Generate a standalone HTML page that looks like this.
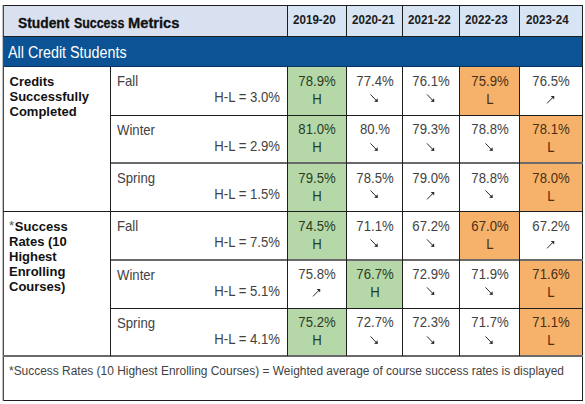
<!DOCTYPE html>
<html><head><meta charset="utf-8"><style>
html,body{margin:0;padding:0;background:#fff;width:585px;height:404px;overflow:hidden;position:relative}
div{position:absolute}
.t{font-family:"Liberation Sans",sans-serif;white-space:nowrap;line-height:1;transform-origin:0 0}
</style></head><body>
<div style="left:3px;top:5px;width:579px;height:31px;background:#d9e1f1;"></div>
<div style="left:287px;top:5px;width:295px;height:31px;background:#d6e4f3;"></div>
<div style="left:3px;top:37px;width:579px;height:30px;background:#0b5394;"></div>
<div style="left:3px;top:66px;width:579px;height:1px;background:#0a3360;"></div>
<div style="left:288px;top:67px;width:58px;height:48px;background:#b6d7a8;"></div>
<div class="t" style="left:267.0px;top:73.9px;width:100px;text-align:center;transform-origin:50% 0;font-size:14.3px;font-weight:400;color:#263d22;transform:scaleX(0.92);">78.9%</div>
<div class="t" style="left:267.0px;top:91.9px;width:100px;text-align:center;transform-origin:50% 0;font-size:14.3px;font-weight:400;color:#263d22;transform:scaleX(0.92);">H</div>
<div class="t" style="left:324.5px;top:73.9px;width:100px;text-align:center;transform-origin:50% 0;font-size:14.3px;font-weight:400;color:#424242;transform:scaleX(0.92);">77.4%</div>
<div class="t" style="left:381.0px;top:73.9px;width:100px;text-align:center;transform-origin:50% 0;font-size:14.3px;font-weight:400;color:#424242;transform:scaleX(0.92);">76.1%</div>
<div style="left:460px;top:67px;width:59px;height:48px;background:#f6b26b;"></div>
<div class="t" style="left:439.5px;top:73.9px;width:100px;text-align:center;transform-origin:50% 0;font-size:14.3px;font-weight:400;color:#4a2e12;transform:scaleX(0.92);">75.9%</div>
<div class="t" style="left:439.5px;top:91.9px;width:100px;text-align:center;transform-origin:50% 0;font-size:14.3px;font-weight:400;color:#4a2e12;transform:scaleX(0.92);">L</div>
<div class="t" style="left:501.0px;top:73.9px;width:100px;text-align:center;transform-origin:50% 0;font-size:14.3px;font-weight:400;color:#424242;transform:scaleX(0.92);">76.5%</div>
<div class="t" style="left:117px;top:74.3px;font-size:14.3px;font-weight:400;color:#424242;transform:scaleX(0.92);">Fall</div>
<div class="t" style="left:80px;top:90.3px;width:200px;text-align:right;transform-origin:100% 0;font-size:14.3px;font-weight:400;color:#424242;transform:scaleX(0.92);">H-L = 3.0%</div>
<div style="left:288px;top:116px;width:58px;height:46.5px;background:#b6d7a8;"></div>
<div class="t" style="left:267.0px;top:122.2px;width:100px;text-align:center;transform-origin:50% 0;font-size:14.3px;font-weight:400;color:#263d22;transform:scaleX(0.92);">81.0%</div>
<div class="t" style="left:267.0px;top:140.2px;width:100px;text-align:center;transform-origin:50% 0;font-size:14.3px;font-weight:400;color:#263d22;transform:scaleX(0.92);">H</div>
<div class="t" style="left:324.5px;top:122.2px;width:100px;text-align:center;transform-origin:50% 0;font-size:14.3px;font-weight:400;color:#424242;transform:scaleX(0.92);">80.%</div>
<div class="t" style="left:381.0px;top:122.2px;width:100px;text-align:center;transform-origin:50% 0;font-size:14.3px;font-weight:400;color:#424242;transform:scaleX(0.92);">79.3%</div>
<div class="t" style="left:439.5px;top:122.2px;width:100px;text-align:center;transform-origin:50% 0;font-size:14.3px;font-weight:400;color:#424242;transform:scaleX(0.92);">78.8%</div>
<div style="left:520px;top:116px;width:62px;height:46.5px;background:#f6b26b;"></div>
<div class="t" style="left:501.0px;top:122.2px;width:100px;text-align:center;transform-origin:50% 0;font-size:14.3px;font-weight:400;color:#4a2e12;transform:scaleX(0.92);">78.1%</div>
<div class="t" style="left:501.0px;top:140.2px;width:100px;text-align:center;transform-origin:50% 0;font-size:14.3px;font-weight:400;color:#4a2e12;transform:scaleX(0.92);">L</div>
<div class="t" style="left:117px;top:122.6px;font-size:14.3px;font-weight:400;color:#424242;transform:scaleX(0.92);">Winter</div>
<div class="t" style="left:80px;top:138.6px;width:200px;text-align:right;transform-origin:100% 0;font-size:14.3px;font-weight:400;color:#424242;transform:scaleX(0.92);">H-L = 2.9%</div>
<div style="left:288px;top:163px;width:58px;height:48px;background:#b6d7a8;"></div>
<div class="t" style="left:267.0px;top:170.5px;width:100px;text-align:center;transform-origin:50% 0;font-size:14.3px;font-weight:400;color:#263d22;transform:scaleX(0.92);">79.5%</div>
<div class="t" style="left:267.0px;top:188.5px;width:100px;text-align:center;transform-origin:50% 0;font-size:14.3px;font-weight:400;color:#263d22;transform:scaleX(0.92);">H</div>
<div class="t" style="left:324.5px;top:170.5px;width:100px;text-align:center;transform-origin:50% 0;font-size:14.3px;font-weight:400;color:#424242;transform:scaleX(0.92);">78.5%</div>
<div class="t" style="left:381.0px;top:170.5px;width:100px;text-align:center;transform-origin:50% 0;font-size:14.3px;font-weight:400;color:#424242;transform:scaleX(0.92);">79.0%</div>
<div class="t" style="left:439.5px;top:170.5px;width:100px;text-align:center;transform-origin:50% 0;font-size:14.3px;font-weight:400;color:#424242;transform:scaleX(0.92);">78.8%</div>
<div style="left:520px;top:163px;width:62px;height:48px;background:#f6b26b;"></div>
<div class="t" style="left:501.0px;top:170.5px;width:100px;text-align:center;transform-origin:50% 0;font-size:14.3px;font-weight:400;color:#4a2e12;transform:scaleX(0.92);">78.0%</div>
<div class="t" style="left:501.0px;top:188.5px;width:100px;text-align:center;transform-origin:50% 0;font-size:14.3px;font-weight:400;color:#4a2e12;transform:scaleX(0.92);">L</div>
<div class="t" style="left:117px;top:170.89999999999998px;font-size:14.3px;font-weight:400;color:#424242;transform:scaleX(0.92);">Spring</div>
<div class="t" style="left:80px;top:186.89999999999998px;width:200px;text-align:right;transform-origin:100% 0;font-size:14.3px;font-weight:400;color:#424242;transform:scaleX(0.92);">H-L = 1.5%</div>
<div style="left:288px;top:212px;width:58px;height:47.5px;background:#b6d7a8;"></div>
<div class="t" style="left:267.0px;top:218.79999999999998px;width:100px;text-align:center;transform-origin:50% 0;font-size:14.3px;font-weight:400;color:#263d22;transform:scaleX(0.92);">74.5%</div>
<div class="t" style="left:267.0px;top:236.79999999999998px;width:100px;text-align:center;transform-origin:50% 0;font-size:14.3px;font-weight:400;color:#263d22;transform:scaleX(0.92);">H</div>
<div class="t" style="left:324.5px;top:218.79999999999998px;width:100px;text-align:center;transform-origin:50% 0;font-size:14.3px;font-weight:400;color:#424242;transform:scaleX(0.92);">71.1%</div>
<div class="t" style="left:381.0px;top:218.79999999999998px;width:100px;text-align:center;transform-origin:50% 0;font-size:14.3px;font-weight:400;color:#424242;transform:scaleX(0.92);">67.2%</div>
<div style="left:460px;top:212px;width:59px;height:47.5px;background:#f6b26b;"></div>
<div class="t" style="left:439.5px;top:218.79999999999998px;width:100px;text-align:center;transform-origin:50% 0;font-size:14.3px;font-weight:400;color:#4a2e12;transform:scaleX(0.92);">67.0%</div>
<div class="t" style="left:439.5px;top:236.79999999999998px;width:100px;text-align:center;transform-origin:50% 0;font-size:14.3px;font-weight:400;color:#4a2e12;transform:scaleX(0.92);">L</div>
<div class="t" style="left:501.0px;top:218.79999999999998px;width:100px;text-align:center;transform-origin:50% 0;font-size:14.3px;font-weight:400;color:#424242;transform:scaleX(0.92);">67.2%</div>
<div class="t" style="left:117px;top:219.2px;font-size:14.3px;font-weight:400;color:#424242;transform:scaleX(0.92);">Fall</div>
<div class="t" style="left:80px;top:235.2px;width:200px;text-align:right;transform-origin:100% 0;font-size:14.3px;font-weight:400;color:#424242;transform:scaleX(0.92);">H-L = 7.5%</div>
<div class="t" style="left:267.0px;top:267.1px;width:100px;text-align:center;transform-origin:50% 0;font-size:14.3px;font-weight:400;color:#424242;transform:scaleX(0.92);">75.8%</div>
<div style="left:347px;top:260px;width:55px;height:48px;background:#b6d7a8;"></div>
<div class="t" style="left:324.5px;top:267.1px;width:100px;text-align:center;transform-origin:50% 0;font-size:14.3px;font-weight:400;color:#263d22;transform:scaleX(0.92);">76.7%</div>
<div class="t" style="left:324.5px;top:285.1px;width:100px;text-align:center;transform-origin:50% 0;font-size:14.3px;font-weight:400;color:#263d22;transform:scaleX(0.92);">H</div>
<div class="t" style="left:381.0px;top:267.1px;width:100px;text-align:center;transform-origin:50% 0;font-size:14.3px;font-weight:400;color:#424242;transform:scaleX(0.92);">72.9%</div>
<div class="t" style="left:439.5px;top:267.1px;width:100px;text-align:center;transform-origin:50% 0;font-size:14.3px;font-weight:400;color:#424242;transform:scaleX(0.92);">71.9%</div>
<div style="left:520px;top:260px;width:62px;height:48px;background:#f6b26b;"></div>
<div class="t" style="left:501.0px;top:267.1px;width:100px;text-align:center;transform-origin:50% 0;font-size:14.3px;font-weight:400;color:#4a2e12;transform:scaleX(0.92);">71.6%</div>
<div class="t" style="left:501.0px;top:285.1px;width:100px;text-align:center;transform-origin:50% 0;font-size:14.3px;font-weight:400;color:#4a2e12;transform:scaleX(0.92);">L</div>
<div class="t" style="left:117px;top:267.5px;font-size:14.3px;font-weight:400;color:#424242;transform:scaleX(0.92);">Winter</div>
<div class="t" style="left:80px;top:283.5px;width:200px;text-align:right;transform-origin:100% 0;font-size:14.3px;font-weight:400;color:#424242;transform:scaleX(0.92);">H-L = 5.1%</div>
<div style="left:288px;top:309px;width:58px;height:46.5px;background:#b6d7a8;"></div>
<div class="t" style="left:267.0px;top:315.4px;width:100px;text-align:center;transform-origin:50% 0;font-size:14.3px;font-weight:400;color:#263d22;transform:scaleX(0.92);">75.2%</div>
<div class="t" style="left:267.0px;top:333.4px;width:100px;text-align:center;transform-origin:50% 0;font-size:14.3px;font-weight:400;color:#263d22;transform:scaleX(0.92);">H</div>
<div class="t" style="left:324.5px;top:315.4px;width:100px;text-align:center;transform-origin:50% 0;font-size:14.3px;font-weight:400;color:#424242;transform:scaleX(0.92);">72.7%</div>
<div class="t" style="left:381.0px;top:315.4px;width:100px;text-align:center;transform-origin:50% 0;font-size:14.3px;font-weight:400;color:#424242;transform:scaleX(0.92);">72.3%</div>
<div class="t" style="left:439.5px;top:315.4px;width:100px;text-align:center;transform-origin:50% 0;font-size:14.3px;font-weight:400;color:#424242;transform:scaleX(0.92);">71.7%</div>
<div style="left:520px;top:309px;width:62px;height:46.5px;background:#f6b26b;"></div>
<div class="t" style="left:501.0px;top:315.4px;width:100px;text-align:center;transform-origin:50% 0;font-size:14.3px;font-weight:400;color:#4a2e12;transform:scaleX(0.92);">71.1%</div>
<div class="t" style="left:501.0px;top:333.4px;width:100px;text-align:center;transform-origin:50% 0;font-size:14.3px;font-weight:400;color:#4a2e12;transform:scaleX(0.92);">L</div>
<div class="t" style="left:117px;top:315.8px;font-size:14.3px;font-weight:400;color:#424242;transform:scaleX(0.92);">Spring</div>
<div class="t" style="left:80px;top:331.8px;width:200px;text-align:right;transform-origin:100% 0;font-size:14.3px;font-weight:400;color:#424242;transform:scaleX(0.92);">H-L = 4.1%</div>
<div class="t" style="left:9.5px;top:73.5px;font-size:13px;font-weight:700;color:#111;line-height:15.2px;">Credits<br>Successfully<br>Completed</div>
<div class="t" style="left:9px;top:218.5px;font-size:13px;font-weight:700;color:#111;line-height:15.2px;"><span style="font-weight:400;margin-right:0.8px;color:#555;position:relative;top:-1px">*</span>Success<br>Rates (10<br>Highest<br>Enrolling<br>Courses)</div>
<div class="t" style="left:17.8px;top:16.3px;font-size:14px;font-weight:700;color:#111;transform:scaleX(0.985);-webkit-text-stroke:0.3px #111;">Student</div>
<div class="t" style="left:74px;top:16.3px;font-size:14px;font-weight:700;color:#111;transform:scaleX(0.885);-webkit-text-stroke:0.3px #111;">Success</div>
<div class="t" style="left:127.6px;top:16.3px;font-size:14px;font-weight:700;color:#111;transform:scaleX(1.05);-webkit-text-stroke:0.3px #111;">Metrics</div>
<div class="t" style="left:293px;top:13.8px;font-size:12.5px;font-weight:700;color:#1a1a1a;transform:scaleX(0.93);">2019-20</div>
<div class="t" style="left:352px;top:13.8px;font-size:12.5px;font-weight:700;color:#1a1a1a;transform:scaleX(0.93);">2020-21</div>
<div class="t" style="left:408.4px;top:13.8px;font-size:12.5px;font-weight:700;color:#1a1a1a;transform:scaleX(0.93);">2021-22</div>
<div class="t" style="left:465px;top:13.8px;font-size:12.5px;font-weight:700;color:#1a1a1a;transform:scaleX(0.93);">2022-23</div>
<div class="t" style="left:526px;top:13.8px;font-size:12.5px;font-weight:700;color:#1a1a1a;transform:scaleX(0.93);">2023-24</div>
<div class="t" style="left:8.3px;top:45.2px;font-size:16px;font-weight:400;color:#ffffff;transform:scaleX(0.895);transform-origin:0 0;">All Credit Students</div>
<div class="t" style="left:9px;top:364.5px;font-size:12px;font-weight:400;color:#424242;transform:scaleX(0.995);transform-origin:0 0;">*Success Rates (10 Highest Enrolling Courses) = Weighted average of course success rates is displayed</div>
<div style="left:3px;top:5px;width:580px;height:1px;background:#1e1e1e;"></div>
<div style="left:3px;top:400px;width:580px;height:1px;background:#1e1e1e;"></div>
<div style="left:3px;top:5px;width:1px;height:396px;background:#4a4a4a;"></div>
<div style="left:2px;top:5px;width:1px;height:396px;background:#c0c0c0;"></div>
<div style="left:582px;top:5px;width:1px;height:396px;background:#1e1e1e;"></div>
<div style="left:3px;top:36px;width:580px;height:1px;background:#1e1e1e;"></div>
<div style="left:110px;top:115px;width:473px;height:1px;background:#1e1e1e;"></div>
<div style="left:110px;top:162px;width:473px;height:2px;background:#6a6a6a;"></div>
<div style="left:3px;top:211px;width:580px;height:1px;background:#1e1e1e;"></div>
<div style="left:110px;top:259px;width:473px;height:2px;background:#6a6a6a;"></div>
<div style="left:110px;top:308px;width:473px;height:1px;background:#1e1e1e;"></div>
<div style="left:3px;top:355px;width:580px;height:2px;background:#6a6a6a;"></div>
<div style="left:287px;top:5px;width:1px;height:32px;background:#1e1e1e;"></div>
<div style="left:287px;top:67px;width:1px;height:289px;background:#1e1e1e;"></div>
<div style="left:346px;top:5px;width:1px;height:32px;background:#1e1e1e;"></div>
<div style="left:346px;top:67px;width:1px;height:289px;background:#1e1e1e;"></div>
<div style="left:402px;top:5px;width:1px;height:32px;background:#1e1e1e;"></div>
<div style="left:402px;top:67px;width:1px;height:289px;background:#1e1e1e;"></div>
<div style="left:459px;top:5px;width:1px;height:32px;background:#1e1e1e;"></div>
<div style="left:459px;top:67px;width:1px;height:289px;background:#1e1e1e;"></div>
<div style="left:519px;top:5px;width:1px;height:32px;background:#1e1e1e;"></div>
<div style="left:519px;top:67px;width:1px;height:289px;background:#1e1e1e;"></div>
<div style="left:110px;top:67px;width:1px;height:289px;background:#1e1e1e;"></div>
<svg width="585" height="404" style="position:absolute;left:0;top:0"><path d="M370.5 94.4 L376.5 100.7" stroke="#2e2e2e" stroke-width="1" fill="none"/><path d="M377.8 102.0 L374.1 101.8 L377.6 98.3 Z" fill="#2e2e2e"/><path d="M427.0 94.4 L433.0 100.7" stroke="#2e2e2e" stroke-width="1" fill="none"/><path d="M434.3 102.0 L430.6 101.8 L434.1 98.3 Z" fill="#2e2e2e"/><path d="M547.0 103.4 L553.0 97.2" stroke="#2e2e2e" stroke-width="1" fill="none"/><path d="M554.3 95.9 L550.6 96.10000000000001 L554.1 99.60000000000001 Z" fill="#2e2e2e"/><path d="M370.5 143.4 L376.5 149.7" stroke="#2e2e2e" stroke-width="1" fill="none"/><path d="M377.8 151.0 L374.1 150.79999999999998 L377.6 147.29999999999998 Z" fill="#2e2e2e"/><path d="M427.0 143.4 L433.0 149.7" stroke="#2e2e2e" stroke-width="1" fill="none"/><path d="M434.3 151.0 L430.6 150.79999999999998 L434.1 147.29999999999998 Z" fill="#2e2e2e"/><path d="M485.5 143.4 L491.5 149.7" stroke="#2e2e2e" stroke-width="1" fill="none"/><path d="M492.8 151.0 L489.1 150.79999999999998 L492.6 147.29999999999998 Z" fill="#2e2e2e"/><path d="M370.5 190.4 L376.5 196.7" stroke="#2e2e2e" stroke-width="1" fill="none"/><path d="M377.8 198.0 L374.1 197.79999999999998 L377.6 194.29999999999998 Z" fill="#2e2e2e"/><path d="M427.0 199.4 L433.0 193.2" stroke="#2e2e2e" stroke-width="1" fill="none"/><path d="M434.3 191.89999999999998 L430.6 192.1 L434.1 195.6 Z" fill="#2e2e2e"/><path d="M485.5 190.4 L491.5 196.7" stroke="#2e2e2e" stroke-width="1" fill="none"/><path d="M492.8 198.0 L489.1 197.79999999999998 L492.6 194.29999999999998 Z" fill="#2e2e2e"/><path d="M370.5 239.4 L376.5 245.7" stroke="#2e2e2e" stroke-width="1" fill="none"/><path d="M377.8 247.0 L374.1 246.79999999999998 L377.6 243.29999999999998 Z" fill="#2e2e2e"/><path d="M427.0 239.4 L433.0 245.7" stroke="#2e2e2e" stroke-width="1" fill="none"/><path d="M434.3 247.0 L430.6 246.79999999999998 L434.1 243.29999999999998 Z" fill="#2e2e2e"/><path d="M547.0 248.4 L553.0 242.2" stroke="#2e2e2e" stroke-width="1" fill="none"/><path d="M554.3 240.89999999999998 L550.6 241.1 L554.1 244.6 Z" fill="#2e2e2e"/><path d="M313.0 296.4 L319.0 290.2" stroke="#2e2e2e" stroke-width="1" fill="none"/><path d="M320.3 288.9 L316.6 289.09999999999997 L320.1 292.59999999999997 Z" fill="#2e2e2e"/><path d="M427.0 287.4 L433.0 293.7" stroke="#2e2e2e" stroke-width="1" fill="none"/><path d="M434.3 295.0 L430.6 294.8 L434.1 291.3 Z" fill="#2e2e2e"/><path d="M485.5 287.4 L491.5 293.7" stroke="#2e2e2e" stroke-width="1" fill="none"/><path d="M492.8 295.0 L489.1 294.8 L492.6 291.3 Z" fill="#2e2e2e"/><path d="M370.5 336.4 L376.5 342.7" stroke="#2e2e2e" stroke-width="1" fill="none"/><path d="M377.8 344.0 L374.1 343.8 L377.6 340.3 Z" fill="#2e2e2e"/><path d="M427.0 336.4 L433.0 342.7" stroke="#2e2e2e" stroke-width="1" fill="none"/><path d="M434.3 344.0 L430.6 343.8 L434.1 340.3 Z" fill="#2e2e2e"/><path d="M485.5 336.4 L491.5 342.7" stroke="#2e2e2e" stroke-width="1" fill="none"/><path d="M492.8 344.0 L489.1 343.8 L492.6 340.3 Z" fill="#2e2e2e"/></svg>
</body></html>
